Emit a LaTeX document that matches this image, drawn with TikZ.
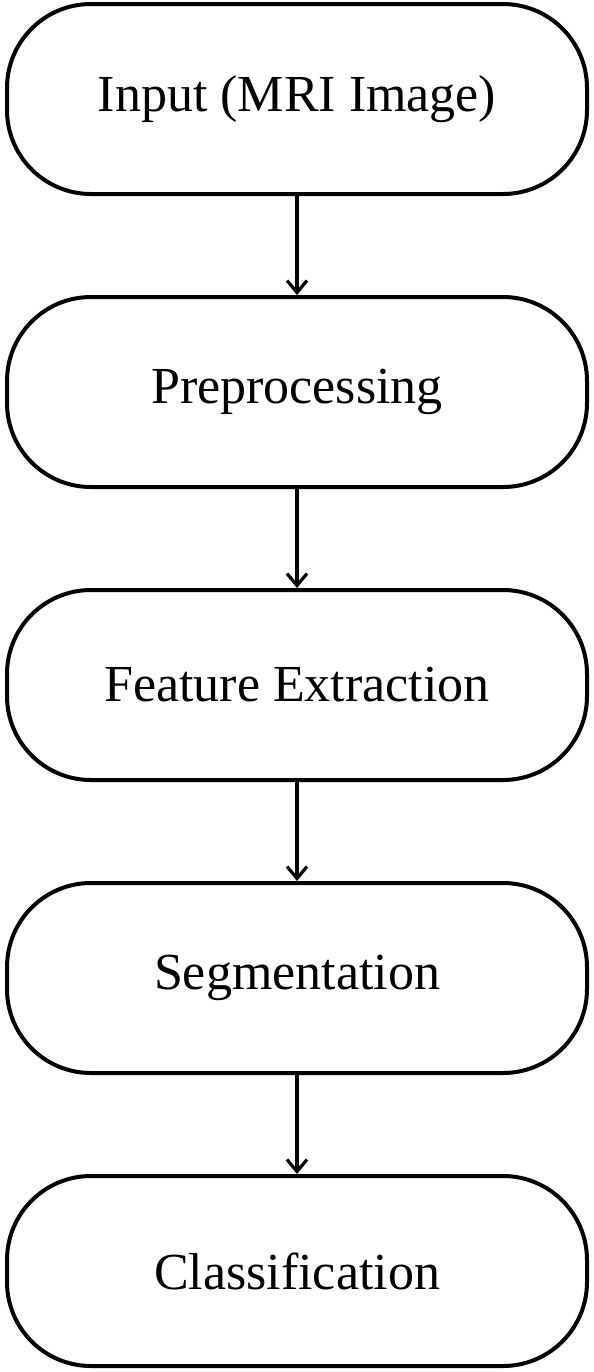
\documentclass[tikz,border=0pt]{standalone}
\usepackage{fontspec}
\setmainfont{Liberation Serif}
\usetikzlibrary{arrows.meta,positioning}

\begin{document}
\begin{tikzpicture}[
    stage/.style={rectangle, rounded corners=42pt, draw, line width=2pt,
        minimum width=290pt, minimum height=95pt,
        font=\fontsize{26}{30}\selectfont},
    flow/.style={-{Straight Barb[length=6pt,width=10pt]}, line width=1.6pt},
    node distance=49.5pt
]
    % Fix the page size
    \useasboundingbox (0,0) rectangle (297pt,-686pt);

    % Draw nodes
    \node[stage] (input) at (148.5pt,-49.5pt) {Input (MRI Image)};
    \node[stage, below=of input] (prep) {Preprocessing};
    \node[stage, below=of prep] (feat) {Feature Extraction};
    \node[stage, below=of feat] (seg) {Segmentation};
    \node[stage, below=of seg] (cls) {Classification};

    % Draw arrows
    \draw[flow] (input) -- (prep);
    \draw[flow] (prep) -- (feat);
    \draw[flow] (feat) -- (seg);
    \draw[flow] (seg) -- (cls);
\end{tikzpicture}
\end{document}
